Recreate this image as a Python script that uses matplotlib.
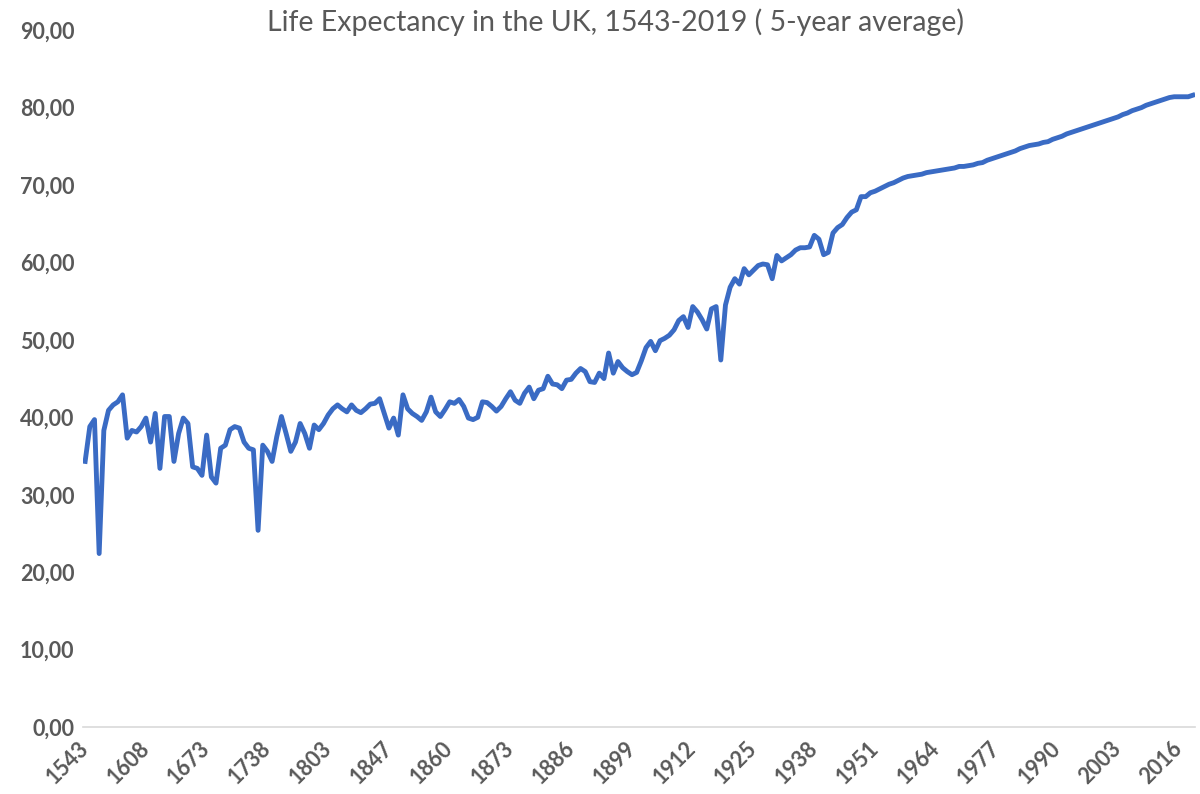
import matplotlib
matplotlib.use("Agg")
import matplotlib.pyplot as plt
from matplotlib.ticker import FuncFormatter

# categories: 5-year steps up to 1838, then yearly from 1842
years = list(range(1543, 1839, 5)) + list(range(1842, 2020))

# life expectancy readings (5-year average), split by period
life_1543_1663 = [34.3, 38.8, 39.7, 22.4, 38.3, 40.9, 41.6, 42.0, 42.9, 37.3,
                  38.3, 38.1, 38.8, 39.9, 36.8, 40.5, 33.4, 40.1, 40.1, 34.3,
                  37.9, 39.9, 39.2, 33.6, 33.4]
life_1668_1793 = [32.5, 37.7, 32.3, 31.5, 36.0, 36.4, 38.4, 38.8, 38.6, 36.8,
                  36.0, 35.8, 25.4, 36.4, 35.6, 34.3, 37.5, 40.1, 37.9, 35.6,
                  36.8, 39.2, 37.9, 36.0, 39.0, 38.4]
life_1798_1859 = [39.2, 40.3, 41.1, 41.6, 41.1, 40.7, 41.6, 40.9, 40.6, 41.1,
                  41.7, 41.8, 42.4, 40.5, 38.6, 39.9, 37.7, 42.9, 41.1, 40.5,
                  40.1, 39.6, 40.7, 42.6, 40.7, 40.1, 41.0]
life_1860_1896 = [42.0, 41.8, 42.3, 41.4, 39.9, 39.7, 40.0, 42.0, 41.9, 41.4,
                  40.8, 41.4, 42.4, 43.3, 42.2, 41.8, 43.1, 43.9, 42.4, 43.5,
                  43.7, 45.3, 44.3, 44.2, 43.7, 44.8, 44.9, 45.7, 46.3, 45.9,
                  44.6, 44.5, 45.7, 45.0, 48.3, 45.7, 47.2]
life_1897_1926 = [46.4, 45.9, 45.5, 45.8, 47.3, 49.0, 49.8, 48.6, 49.9, 50.2,
                  50.6, 51.3, 52.5, 53.0, 51.6, 54.3, 53.6, 52.6, 51.4, 54.0,
                  54.3, 47.4, 54.5, 56.8, 57.9, 57.2, 59.2, 58.4, 59.0, 59.6]
life_1927_1956 = [59.8, 59.7, 57.9, 60.9, 60.2, 60.6, 61.0, 61.6, 61.9, 61.9,
                  62.0, 63.5, 63.0, 61.0, 61.3, 63.8, 64.5, 64.9, 65.8, 66.5,
                  66.8, 68.5, 68.5, 69.0, 69.2, 69.5, 69.8, 70.1, 70.3, 70.6]
life_1957_2019 = [70.9, 71.1, 71.2, 71.3, 71.4, 71.6, 71.7, 71.8, 71.9, 72.0,
                  72.1, 72.2, 72.4, 72.4, 72.5, 72.6, 72.8, 72.9, 73.2, 73.4,
                  73.6, 73.8, 74.0, 74.2, 74.4, 74.7, 74.9, 75.1, 75.2, 75.3,
                  75.5, 75.6, 75.9, 76.1, 76.3, 76.6, 76.8, 77.0, 77.2, 77.4,
                  77.6, 77.8, 78.0, 78.2, 78.4, 78.6, 78.8, 79.1, 79.3, 79.6,
                  79.8, 80.0, 80.3, 80.5, 80.7, 80.9, 81.1, 81.3, 81.4, 81.4,
                  81.4, 81.4, 81.6]

life = (life_1543_1663 + life_1668_1793 + life_1798_1859 + life_1860_1896
        + life_1897_1926 + life_1927_1956 + life_1957_2019)

label_step = 13
text_grey = "#595959"
plt.rcParams["font.family"] = ["Lato", "DejaVu Sans"]

fig = plt.figure(figsize=(12, 7.94), dpi=100)
ax = fig.add_axes([0.069, 0.0844, 0.927, 0.8776])

x = list(range(len(life)))
ax.plot(x, life, color="#3A6BC4", linewidth=3.5, solid_joinstyle="round")

ax.set_xlim(-0.5, len(life) - 0.5)
ax.set_ylim(0, 90)
ax.set_yticks(range(0, 91, 10))
ax.yaxis.set_major_formatter(FuncFormatter(lambda v, p: f"{v:.2f}".replace(".", ",")))

tick_pos = x[::label_step]
ax.set_xticks(tick_pos)
ax.set_xticklabels([str(years[i]) for i in tick_pos], rotation=45,
                   ha="right", va="center", rotation_mode="anchor")

ax.tick_params(axis="both", length=0, labelsize=15.5, labelcolor=text_grey)
ax.tick_params(axis="x", pad=13)
ax.tick_params(axis="y", pad=6)
for lab in ax.get_xticklabels() + ax.get_yticklabels():
    lab.set_fontweight("bold")

for side in ["top", "right", "left"]:
    ax.spines[side].set_visible(False)
ax.spines["bottom"].set_color("#D9D9D9")
ax.spines["bottom"].set_linewidth(1.2)

fig.text(0.513, 0.972, "Life Expectancy in the UK, 1543-2019 ( 5-year average)",
         ha="center", va="center", fontsize=20.5, color=text_grey)

fig.savefig("out.png", dpi=100)
